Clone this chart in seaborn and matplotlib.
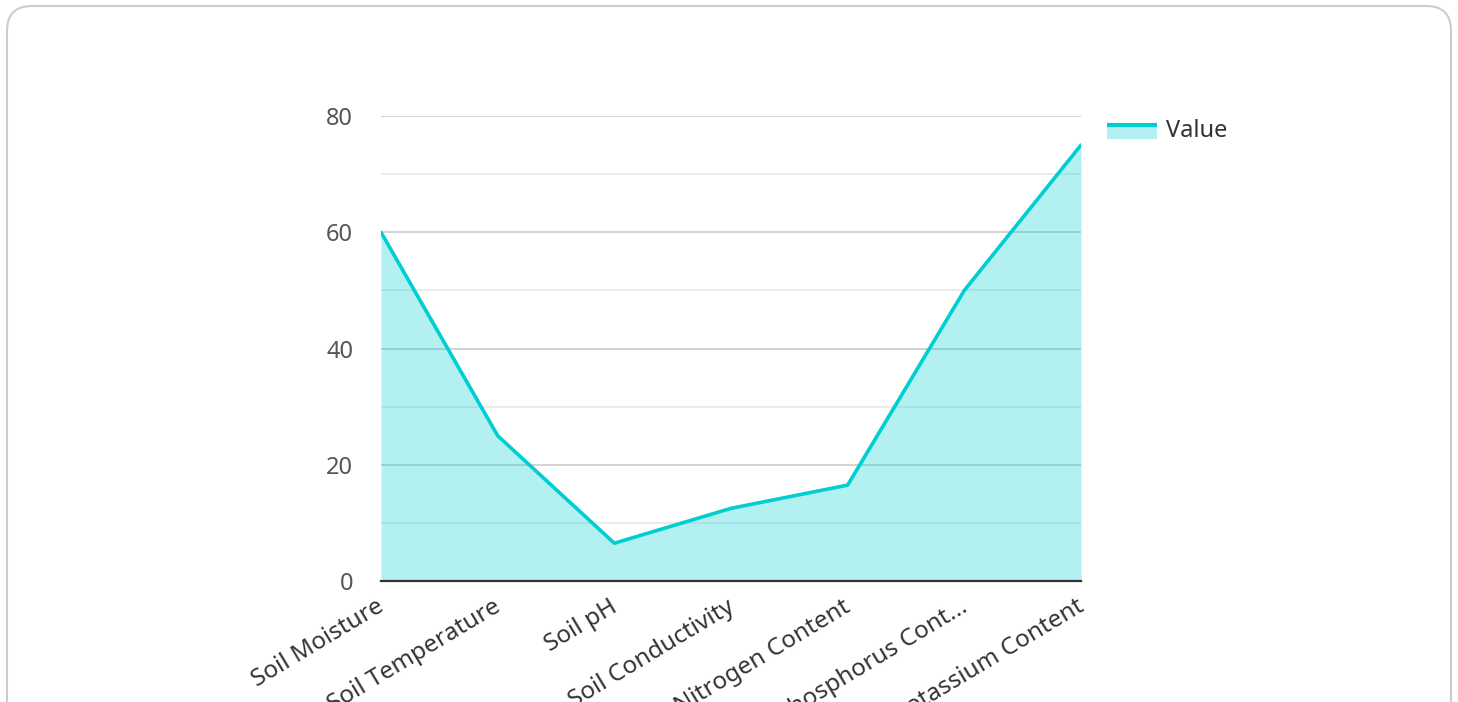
import matplotlib
matplotlib.use("Agg")
import matplotlib.pyplot as plt
import matplotlib.transforms as mtransforms
import seaborn as sns
import pandas as pd
from matplotlib.patches import FancyBboxPatch, Rectangle
from matplotlib.lines import Line2D
from matplotlib.legend_handler import HandlerBase

categories = ["Soil Moisture", "Soil Temperature", "Soil pH", "Soil Conductivity",
              "Nitrogen Content", "Phosphorus Cont...", "Potassium Content"]
values = [60, 25, 6.5, 12.5, 16.5, 50, 75]
y_ticks = [0, 20, 40, 60, 80]
series_name = "Value"

LINE = "#00CED1"
FS = 17

sns.set_theme(style="white")
plt.rcParams['font.family'] = ['Noto Sans', 'DejaVu Sans']

df = pd.DataFrame({"idx": range(len(categories)), "value": values})

fig = plt.figure(figsize=(14.58, 7.02), dpi=100)
fig.patch.set_facecolor("white")

# rounded card border
card = FancyBboxPatch((7/1458, -0.05), (1451-7)/1458, (702-6)/702 + 0.05,
                      boxstyle="round,pad=0,rounding_size=0.017",
                      transform=fig.transFigure, facecolor="none",
                      edgecolor="#cccccc", linewidth=1.5, zorder=-1,
                      mutation_aspect=1458/702)
fig.patches.append(card)

ax = fig.add_axes([381/1458, 1 - 581/702, (1081-381)/1458, (581-116)/702])
ax.set_facecolor("none")

ax.fill_between(df["idx"], df["value"], 0, color=LINE, alpha=0.3, linewidth=0, zorder=2)
sns.lineplot(data=df, x="idx", y="value", ax=ax, color=LINE, linewidth=2.6,
             zorder=3, legend=False)

ax.set_xlim(0, len(categories) - 1)
ax.set_ylim(0, 80)
ax.set_yticks(y_ticks)
ax.set_yticks([10, 30, 50, 70], minor=True)
ax.grid(True, axis="y", which="major", color="#c8c8c8", linewidth=1.1, zorder=1)
ax.grid(True, axis="y", which="minor", color="#e6e6e6", linewidth=1.1, zorder=1)
ax.set_axisbelow(True)

ax.set_xticks(range(len(categories)))
ax.set_xticklabels(categories, rotation=31, ha="right", rotation_mode="anchor",
                   fontsize=17.5, color="#333333")
ax.tick_params(axis="x", length=0, pad=10)
ax.tick_params(axis="y", length=0, pad=20, labelsize=FS, labelcolor="#555555")
shift = mtransforms.ScaledTranslation(-5/100, 0, fig.dpi_scale_trans)
for lab in ax.get_xticklabels():
    lab.set_transform(lab.get_transform() + shift)
ax.set_xlabel("")
ax.set_ylabel("")

for s in ["top", "right", "left"]:
    ax.spines[s].set_visible(False)
ax.spines["bottom"].set_color("#333333")
ax.spines["bottom"].set_linewidth(1.6)
ax.spines["bottom"].set_zorder(4)


class AreaHandler(HandlerBase):
    def create_artists(self, legend, orig_handle, xdescent, ydescent, width, height, fontsize, trans):
        rect = Rectangle((-xdescent, -ydescent), width, height * 0.75,
                         facecolor=LINE, alpha=0.3, edgecolor="none", transform=trans)
        line = Line2D([-xdescent, -xdescent + width], [-ydescent + height * 0.68] * 2,
                      color=LINE, linewidth=3, solid_capstyle="butt", transform=trans)
        return [rect, line]


handle = Line2D([], [], color=LINE)
leg = fig.legend([handle], [series_name], handler_map={Line2D: AreaHandler()},
                 loc="upper left", bbox_to_anchor=(1107/1458, 1 - 119/702),
                 frameon=False, fontsize=FS, handlelength=2.1, handleheight=0.9,
                 handletextpad=0.42, borderaxespad=0, borderpad=0)
for t in leg.get_texts():
    t.set_color("#333333")

fig.savefig("out.png", dpi=100)
